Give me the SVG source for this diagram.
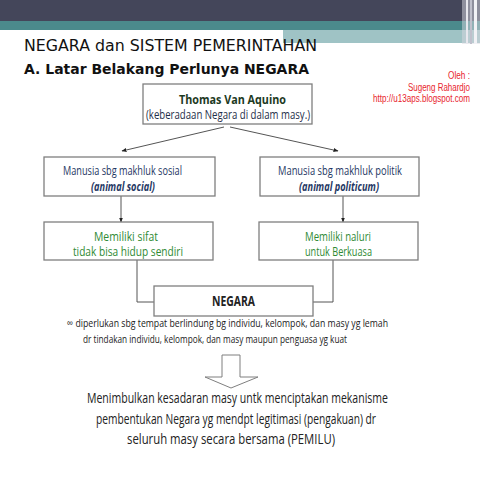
<svg xmlns="http://www.w3.org/2000/svg" width="480" height="480" viewBox="0 0 480 480">
<defs>
<marker id="ah" viewBox="0 0 10 10" refX="9" refY="5" markerWidth="5" markerHeight="5" orient="auto-start-reverse">
<path d="M0,1 L10,5 L0,9 z" fill="#222"/>
</marker>
<style>
.box{fill:#fff;stroke:#7f7f7f;stroke-width:1.3}
.conn{fill:none;stroke:#555;stroke-width:1}
.cal{font-family:"Open Sans","Noto Sans",sans-serif}
.navy{fill:#1f3864;font-size:12.5px}
.green{fill:#2f8a34;font-size:12.5px}
.red{font-family:"Liberation Sans Narrow","Liberation Sans",Arial,sans-serif;fill:#e8252d;font-size:10px}
</style>
</defs>
<rect width="480" height="480" fill="#fff"/>
<g id="header">
<rect x="0" y="0" width="480" height="21" fill="#44465a"/>
<rect x="0" y="21" width="480" height="9" fill="#4b8a8c"/>
<rect x="283" y="30" width="197" height="13" fill="#9fc3c5"/>
<rect x="462" y="0" width="18" height="44" fill="#d8d8e0" opacity="0.5"/>
<rect x="466" y="0" width="2" height="44" fill="#e8e8ee"/>
<rect x="470" y="0" width="2" height="44" fill="#c0c0cc"/>
<rect x="474" y="0" width="3" height="44" fill="#f2f2f6"/>
</g>
<g id="titles" font-family="'DejaVu Sans',sans-serif" fill="#111">
<text x="24" y="51" font-size="16" textLength="293" lengthAdjust="spacingAndGlyphs">NEGARA dan SISTEM PEMERINTAHAN</text>
<text x="24" y="74" font-size="13.5" font-weight="bold" textLength="285" lengthAdjust="spacingAndGlyphs">A. Latar Belakang Perlunya NEGARA</text>
</g>
<g id="author" class="red">
<text x="448" y="79" textLength="22" lengthAdjust="spacingAndGlyphs">Oleh :</text>
<text x="408" y="91" textLength="62" lengthAdjust="spacingAndGlyphs">Sugeng Rahardjo</text>
<text x="373" y="102" textLength="97" lengthAdjust="spacingAndGlyphs">http://u13aps.blogspot.com</text>
</g>
<g id="connectors">
<line class="conn" x1="224" y1="127" x2="122" y2="151" marker-end="url(#ah)"/>
<line class="conn" x1="230" y1="127" x2="338" y2="151" marker-end="url(#ah)"/>
<line class="conn" x1="121" y1="196" x2="121" y2="222" marker-end="url(#ah)"/>
<line class="conn" x1="343" y1="196" x2="343" y2="222" marker-end="url(#ah)"/>
<polyline class="conn" points="137,260 137,302 154,302" stroke="#7f7f7f"/>
<polyline class="conn" points="333,260 333,302 313,302" stroke="#7f7f7f"/>
</g>
<g id="node-thomas">
<rect class="box" x="143" y="84" width="169" height="40"/>
<text class="cal" x="179" y="104" font-size="12.5" font-weight="bold" fill="#1d3a1f" textLength="107" lengthAdjust="spacingAndGlyphs">Thomas Van Aquino</text>
<text class="cal" x="146" y="119" font-size="12.5" fill="#1f2f4a" textLength="164" lengthAdjust="spacingAndGlyphs">(keberadaan Negara di dalam masy.)</text>
</g>
<g id="node-sosial">
<rect class="box" x="44" y="157" width="171" height="39"/>
<text class="cal navy" x="63" y="175" textLength="119" lengthAdjust="spacingAndGlyphs">Manusia sbg makhluk sosial</text>
<text class="cal navy" x="91" y="191" font-weight="bold" font-style="italic" textLength="64" lengthAdjust="spacingAndGlyphs">(animal social)</text>
</g>
<g id="node-politik">
<rect class="box" x="260" y="157" width="159" height="39"/>
<text class="cal navy" x="278" y="175" textLength="124" lengthAdjust="spacingAndGlyphs">Manusia sbg makhluk politik</text>
<text class="cal navy" x="299" y="191" font-weight="bold" font-style="italic" textLength="80" lengthAdjust="spacingAndGlyphs">(animal politicum)</text>
</g>
<g id="node-sifat">
<rect class="box" x="44" y="222" width="169" height="38"/>
<text class="cal green" x="94" y="241" textLength="64" lengthAdjust="spacingAndGlyphs">Memiliki sifat</text>
<text class="cal green" x="73" y="256" textLength="110" lengthAdjust="spacingAndGlyphs">tidak bisa hidup sendiri</text>
</g>
<g id="node-naluri">
<rect class="box" x="259" y="222" width="159" height="38"/>
<text class="cal green" x="305" y="241" textLength="66" lengthAdjust="spacingAndGlyphs">Memiliki naluri</text>
<text class="cal green" x="305" y="256" textLength="67" lengthAdjust="spacingAndGlyphs">untuk Berkuasa</text>
</g>
<g id="node-negara">
<rect class="box" x="154" y="286" width="159" height="30"/>
<text class="cal" x="212" y="306" font-size="14" font-weight="bold" fill="#222" textLength="43" lengthAdjust="spacingAndGlyphs">NEGARA</text>
</g>
<g id="note" class="cal" font-size="11" fill="#222">
<text x="67" y="327" textLength="321" lengthAdjust="spacingAndGlyphs">∞ diperlukan sbg tempat berlindung bg individu, kelompok, dan masy yg lemah</text>
<text x="83" y="343" textLength="264" lengthAdjust="spacingAndGlyphs">dr tindakan individu, kelompok, dan masy maupun  penguasa yg kuat</text>
</g>
<g id="block-arrow">
<polygon points="222,355 240,355 240,377 258,377 231,388 205,377 222,377" fill="#fff" stroke="#7f7f7f" stroke-width="1"/>
</g>
<g id="conclusion" class="cal" font-size="15" fill="#222">
<text x="87" y="403" textLength="301" lengthAdjust="spacingAndGlyphs">Menimbulkan kesadaran masy untk menciptakan mekanisme</text>
<text x="96" y="424" textLength="280" lengthAdjust="spacingAndGlyphs">pembentukan Negara yg mendpt legitimasi (pengakuan) dr</text>
<text x="127" y="444" textLength="208" lengthAdjust="spacingAndGlyphs">seluruh masy secara  bersama (PEMILU)</text>
</g>
</svg>
